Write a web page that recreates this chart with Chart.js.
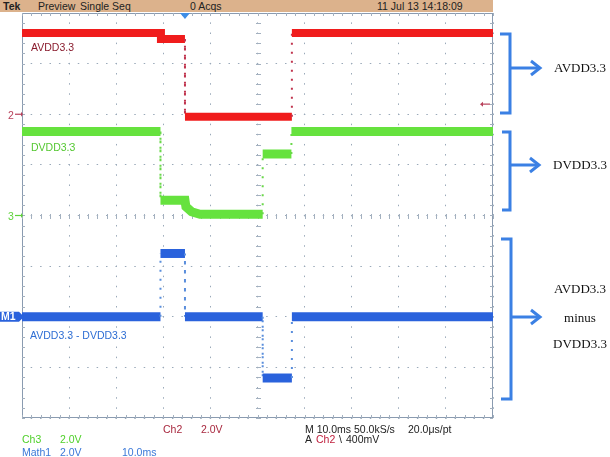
<!DOCTYPE html>
<html>
<head>
<meta charset="utf-8">
<script src="https://cdn.jsdelivr.net/npm/chart.js@4.4.0/dist/chart.umd.min.js"></script>
<style>
  body { margin: 0; background: #fff; }
  #wrap { position: relative; width: 610px; height: 457px; overflow: hidden; }
  #scope { display: block; }
  #hdr { position: absolute; left: 0; top: 0; width: 493px; height: 12px; background: #dcb28c; }
  .t { position: absolute; white-space: nowrap; line-height: 12px; transform: translateY(-50%);
       font: 10.5px "Liberation Sans Narrow", "Liberation Sans", sans-serif; }
  .ann { position: absolute; white-space: nowrap; transform: translate(-50%, -50%);
         font: 13px "Liberation Serif", "DejaVu Serif", serif; color: #111; }
</style>
</head>
<body>
<div id="wrap">
  <canvas id="scope" width="610" height="457"></canvas>
  <div id="hdr"></div>
  <div id="labels"></div>
</div>
<script>
// time in ms (10 ms/div, screen spans -50..50), values in volts
const avddTime = [-50, -20.5, -20.5, -15.4, -15.4, 7.3, 7.3, 50];
const avddVolts = [3.21, 3.21, 2.97, 2.97, -0.1, -0.1, 3.21, 3.21];

const dvddTime = [-50, -20.6, -20.6, -15.4, -15.2, -14.0, -12.2, 1.1, 1.1, 7.2, 7.2, 50];
const dvddVolts = [3.32, 3.32, 0.6, 0.6, 0.35, 0.15, 0.05, 0.05, 2.43, 2.43, 3.32, 3.32];

const mathTime = [-50, -20.6, -20.6, -15.4, -15.4, 1.1, 1.1, 7.3, 7.3, 50];
const mathVolts = [0, 0, 2.5, 2.5, 0, 0, -2.42, -2.42, 0, 0];

const trigTime = -15.4;
const trigLevel = 0.4;

const RED = "#f01c1c", GREEN = "#66e23e", BLUE = "#2a62dc";
const gridCol = "#9aa9b9";

function pts(t, v) { return t.map((x, i) => ({ x: x, y: v[i] })); }

// fast edges are drawn as sparse dots, like the scope does
const steep = c => c.p0.parsed.x === c.p1.parsed.x && Math.abs(c.p1.parsed.y - c.p0.parsed.y) > 0.5;

function trace(label, t, v, axis, col, edgeCol, w) {
  return {
    label: label,
    data: pts(t, v),
    yAxisID: axis,
    borderColor: col,
    borderWidth: w,
    borderCapStyle: "butt",
    pointRadius: 0,
    tension: 0,
    segment: {
      borderWidth: c => steep(c) ? 2 : w,
      borderDash: c => steep(c) ? [2, 7] : [],
      borderColor: c => steep(c) ? edgeCol : col
    }
  };
}

function hLine(ctx, x1, x2, y) { ctx.beginPath(); ctx.moveTo(x1, y); ctx.lineTo(x2, y); ctx.stroke(); }
function vLine(ctx, x, y1, y2) { ctx.beginPath(); ctx.moveTo(x, y1); ctx.lineTo(x, y2); ctx.stroke(); }

function bracket(ctx, xl, xr, top, bot, ay, tip) {
  ctx.beginPath();
  ctx.moveTo(xl, top); ctx.lineTo(xr, top); ctx.lineTo(xr, bot); ctx.lineTo(xl, bot);
  ctx.stroke();
  hLine(ctx, xr, tip, ay);
  ctx.beginPath();
  ctx.moveTo(tip - 9, ay - 7); ctx.lineTo(tip, ay); ctx.lineTo(tip - 9, ay + 7);
  ctx.stroke();
}

const scopeDeco = {
  id: "scopeDeco",
  beforeDatasetsDraw(chart) {
    const ctx = chart.ctx, a = chart.chartArea;
    const sx = chart.scales.x, sy = chart.scales.y;
    ctx.save();
    ctx.strokeStyle = "#8a9bb0";
    ctx.lineWidth = 1;
    ctx.strokeRect(a.left + 0.5, a.top + 0.5, a.right - a.left - 1, a.bottom - a.top - 1);
    const cx = Math.round(sx.getPixelForValue(0)) + 0.5;
    const cy = Math.round(sy.getPixelForValue(0)) + 0.5;
    ctx.strokeStyle = "#a3b0bf";
    for (let d = -50; d <= 50; d += 2) {
      const x = Math.round(sx.getPixelForValue(d)) + 0.5;
      vLine(ctx, x, a.top, a.top + 3);
      vLine(ctx, x, a.bottom - 3, a.bottom);
      vLine(ctx, x, cy - 2.5, cy + 2.5);
    }
    for (let d = -4; d <= 4; d += 0.2) {
      const y = Math.round(sy.getPixelForValue(d)) + 0.5;
      hLine(ctx, a.left, a.left + 3, y);
      hLine(ctx, a.right - 3, a.right, y);
      hLine(ctx, cx - 2.5, cx + 2.5, y);
    }
    ctx.restore();
  },
  afterDraw(chart) {
    const ctx = chart.ctx, a = chart.chartArea;
    const sx = chart.scales.x;
    ctx.save();
    // ground markers
    const g2 = chart.scales.yA.getPixelForValue(0);
    const g3 = chart.scales.yB.getPixelForValue(0);
    const gm = chart.scales.yM.getPixelForValue(0);
    const mark = (y, col) => {
      ctx.strokeStyle = col; ctx.fillStyle = col; ctx.lineWidth = 1.2;
      hLine(ctx, 15, 21, y);
      ctx.beginPath(); ctx.moveTo(21, y - 2.5); ctx.lineTo(23, y); ctx.lineTo(21, y + 2.5); ctx.fill();
    };
    mark(g2, "#b8405a");
    mark(g3, "#5fd23c");
    ctx.fillStyle = "#2a62dc";
    ctx.fillRect(0, gm - 5, 19, 10);
    ctx.beginPath(); ctx.moveTo(19, gm - 5); ctx.lineTo(24, gm); ctx.lineTo(19, gm + 5); ctx.fill();
    // trigger level arrow on the right
    const tl = chart.scales.yA.getPixelForValue(trigLevel);
    ctx.strokeStyle = "#b8405a"; ctx.fillStyle = "#b8405a"; ctx.lineWidth = 1.2;
    hLine(ctx, a.right - 11, a.right - 3, tl);
    ctx.beginPath(); ctx.moveTo(a.right - 10, tl - 2.5); ctx.lineTo(a.right - 13, tl); ctx.lineTo(a.right - 10, tl + 2.5); ctx.fill();
    // trigger position
    const tx = sx.getPixelForValue(trigTime);
    ctx.fillStyle = "#3f8ee6";
    ctx.beginPath(); ctx.moveTo(tx - 5, a.top); ctx.lineTo(tx + 5, a.top); ctx.lineTo(tx, a.top + 6); ctx.fill();
    // brackets
    ctx.strokeStyle = "#3b80e4"; ctx.lineWidth = 3; ctx.lineJoin = "miter";
    bracket(ctx, 500, 510, 34, 113, 68, 540);
    bracket(ctx, 502, 510, 132, 210, 165, 539);
    bracket(ctx, 501, 511, 239, 399, 317, 540);
    ctx.restore();
  }
};

const chart = new Chart(document.getElementById("scope"), {
  type: "line",
  data: {
    datasets: [
      trace("AVDD3.3", avddTime, avddVolts, "yA", RED, "#c0344e", 8),
      trace("DVDD3.3", dvddTime, dvddVolts, "yB", GREEN, "#6ad84a", 9),
      trace("AVDD3.3 - DVDD3.3", mathTime, mathVolts, "yM", BLUE, "#5a8edc", 9)
    ]
  },
  options: {
    responsive: false,
    animation: false,
    events: [],
    layout: { padding: { left: 22, top: 13, right: 117, bottom: 39 } },
    plugins: { legend: { display: false }, tooltip: { enabled: false } },
    scales: {
      x: {
        type: "linear", min: -50, max: 50,
        ticks: { display: false, stepSize: 10 },
        grid: { color: gridCol, lineWidth: 1, drawTicks: false },
        border: { display: false, dash: [1.5, 8.63], dashOffset: 0.75 },
        afterFit: s => { s.height = 0; }
      },
      y: {
        type: "linear", min: -4, max: 4,
        ticks: { display: false, stepSize: 1 },
        grid: { color: gridCol, lineWidth: 1, drawTicks: false },
        border: { display: false, dash: [1.5, 7.92], dashOffset: 0.75 },
        afterFit: s => { s.width = 0; }
      },
      // 2 V/div, channel grounds at +2, 0 and -2 div
      yA: { display: false, min: -12, max: 4 },
      yB: { display: false, min: -8, max: 8 },
      yM: { display: false, min: -4, max: 12 }
    }
  },
  plugins: [scopeDeco]
});

const texts = [
  ["Tek", 3, 6, "#222", "bold"],
  ["Preview", 38, 6, "#222"],
  ["Single Seq", 80, 6, "#222"],
  ["0 Acqs", 190, 6, "#222"],
  ["11 Jul 13 14:18:09", 377, 6, "#222"],
  ["AVDD3.3", 31, 47, "#8a1c2e"],
  ["DVDD3.3", 31, 147, "#55c832"],
  ["AVDD3.3 - DVDD3.3", 30, 335, "#2e6ed4"],
  ["2", 8, 115, "#b8405a"],
  ["3", 8, 216, "#5fd23c"],
  ["M1", 1, 316, "#ffffff", "bold"],
  ["Ch2", 163, 429, "#a8283e"],
  ["2.0V", 201, 429, "#a8283e"],
  ["M 10.0ms 50.0kS/s", 305, 429, "#222"],
  ["20.0\u03bcs/pt", 408, 429, "#222"],
  ["Ch3", 22, 439, "#4fd02a"],
  ["2.0V", 60, 439, "#4fd02a"],
  ["A", 305, 439, "#222"],
  ["Ch2", 316, 439, "#c0203e"],
  ["\\", 339, 439, "#222"],
  ["400mV", 346, 439, "#222"],
  ["Math1", 22, 452, "#3a78d8"],
  ["2.0V", 60, 452, "#3a78d8"],
  ["10.0ms", 122, 452, "#3a78d8"]
];
const annotations = [
  ["AVDD3.3", 580, 68],
  ["DVDD3.3", 580, 165],
  ["AVDD3.3", 580, 289],
  ["minus", 580, 318],
  ["DVDD3.3", 580, 344]
];
const box = document.getElementById("labels");
texts.forEach(([s, x, y, col, w]) => {
  const d = document.createElement("div");
  d.className = "t";
  d.textContent = s;
  d.style.left = x + "px";
  d.style.top = y + "px";
  d.style.color = col;
  if (w) d.style.fontWeight = w;
  box.appendChild(d);
});
annotations.forEach(([s, x, y]) => {
  const d = document.createElement("div");
  d.className = "ann";
  d.textContent = s;
  d.style.left = x + "px";
  d.style.top = y + "px";
  box.appendChild(d);
});
</script>
</body>
</html>
